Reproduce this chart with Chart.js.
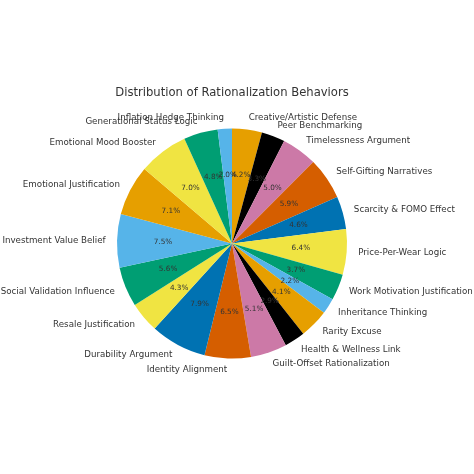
<!DOCTYPE html>
<html>
<head>
<meta charset="utf-8">
<script src="https://cdn.jsdelivr.net/npm/chart.js@4/dist/chart.umd.min.js"></script>
<style>
  html, body { margin: 0; padding: 0; background: #ffffff; }
  #wrap { width: 474px; height: 474px; position: relative; }
</style>
</head>
<body>
<div id="wrap"><canvas id="pieChart"></canvas></div>
<script>
// slices listed clockwise from the top
const categories = [
    'Creative/Artistic Defense', 'Peer Benchmarking', 'Timelessness Argument',
    'Self-Gifting Narratives', 'Scarcity & FOMO Effect', 'Price-Per-Wear Logic',
    'Work Motivation Justification', 'Inheritance Thinking', 'Rarity Excuse',
    'Health & Wellness Link', 'Guilt-Offset Rationalization', 'Identity Alignment',
    'Durability Argument', 'Resale Justification', 'Social Validation Influence',
    'Investment Value Belief', 'Emotional Justification', 'Emotional Mood Booster',
    'Generational Status Logic', 'Inflation Hedge Thinking'
];
const shares = [4.2, 3.3, 5.0, 5.9, 4.6, 6.4, 3.7, 2.2, 4.1, 2.9, 5.1, 6.5, 7.9, 4.3, 5.6, 7.5, 7.1, 7.0, 4.8, 2.0];
const sliceColors = [
    '#E69F00', '#000000', '#CC79A7', '#D55E00', '#0072B2', '#F0E442', '#009E73', '#56B4E9',
    '#E69F00', '#000000', '#CC79A7', '#D55E00', '#0072B2', '#F0E442', '#009E73', '#56B4E9',
    '#E69F00', '#F0E442', '#009E73', '#56B4E9'
];
const chartTitle = 'Distribution of Rationalization Behaviors';

const FONT = '"DejaVu Sans", Verdana, sans-serif';

// draws the title, the outside labels and the percentages
const pieText = {
    id: 'pieText',
    afterDatasetsDraw(chart) {
        const ctx = chart.ctx;
        const arcs = chart.getDatasetMeta(0).data;
        const total = shares.reduce((a, b) => a + b, 0);
        ctx.save();
        ctx.textBaseline = 'middle';

        arcs.forEach((arc, i) => {
            const p = arc.getProps(['x', 'y', 'startAngle', 'endAngle', 'outerRadius'], true);
            const mid = (p.startAngle + p.endAngle) / 2;
            const c = Math.cos(mid), s = Math.sin(mid);

            // category name outside the pie
            ctx.font = '8.7px ' + FONT;
            ctx.fillStyle = '#333333';
            ctx.textAlign = c > 0 ? 'left' : 'right';
            ctx.fillText(categories[i], p.x + c * p.outerRadius * 1.1, p.y + s * p.outerRadius * 1.1);

            // percentage inside
            ctx.font = '7.3px ' + FONT;
            ctx.textAlign = 'center';
            ctx.fillText((shares[i] / total * 100).toFixed(1) + '%',
                p.x + c * p.outerRadius * 0.6, p.y + s * p.outerRadius * 0.6);
        });

        ctx.font = '11.6px ' + FONT;
        ctx.fillStyle = '#333333';
        ctx.textAlign = 'center';
        ctx.fillText(chartTitle, arcs[0].x, 92.5);
        ctx.restore();
    }
};

new Chart(document.getElementById('pieChart'), {
    type: 'pie',
    data: {
        labels: categories,
        datasets: [{
            data: shares,
            backgroundColor: sliceColors,
            borderWidth: 0,
        }],
    },
    options: {
        responsive: true,
        maintainAspectRatio: false,
        animation: false,
        events: [],
        layout: {
            padding: { left: 117, right: 127, top: 128.5, bottom: 115.5 },
        },
        plugins: {
            legend: { display: false },
            tooltip: { enabled: false },
        },
    },
    plugins: [pieText],
});
</script>
</body>
</html>
